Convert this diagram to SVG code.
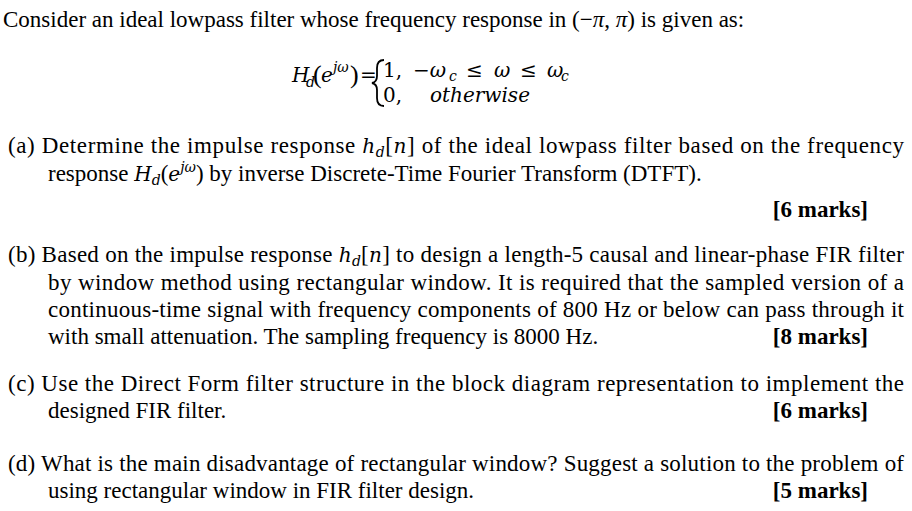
<svg xmlns="http://www.w3.org/2000/svg" width="912" height="511" viewBox="0 0 912 511">
<style>
text{font-family:"Liberation Serif",serif;font-size:23px;fill:#000}
.m{font-family:"DejaVu Serif","Liberation Serif",serif;font-style:italic;font-size:20px}
.s{font-family:"DejaVu Serif","Liberation Serif",serif;font-style:italic;font-size:14px}
.r{font-family:"DejaVu Serif","Liberation Serif",serif;font-size:20px}
.b{font-weight:bold}
</style>
<rect width="912" height="511" fill="#fff"/>
<g id="intro">
<text x="3" y="27">Consider an ideal lowpass filter whose frequency response in <tspan>(−</tspan><tspan font-style="italic">π</tspan><tspan>, </tspan><tspan font-style="italic">π</tspan><tspan>)  is given as:</tspan></text>
</g>
<g id="equation">
<text x="292" y="82" class="m">H</text>
<text x="306" y="87" class="s">d</text>
<text x="313" y="83" style="font-size:26px">(</text>
<text x="321" y="82" class="m">e</text>
<text x="333" y="72" class="s">jω</text>
<text x="350" y="83" style="font-size:26px">)</text>
<text x="360" y="82" class="r">=</text>
<path d="M384,60 Q377,60 377,68 L377,76 Q377,82 372,83 Q377,84 377,90 L377,98 Q377,106 384,106" fill="none" stroke="#000" stroke-width="1.8"/>
<text x="383" y="77" class="r">1,</text>
<text x="413" y="77" class="m">−ω</text>
<text x="449" y="81" class="s">c</text>
<text x="466" y="77" class="r">≤</text>
<text x="494" y="77" class="m">ω</text>
<text x="520" y="77" class="r">≤</text>
<text x="547" y="77" class="m">ω</text>
<text x="561" y="81" class="s">c</text>
<text x="383" y="102" class="r">0,</text>
<text x="430" y="102" class="m">otherwise</text>
</g>
<g id="a">
<text x="8" y="153" textLength="896" lengthAdjust="spacing">(a) Determine the impulse response <tspan class="m">h</tspan><tspan class="s" dy="4">d</tspan><tspan dy="-4">[</tspan><tspan class="m">n</tspan><tspan>] of the ideal lowpass filter based on the frequency</tspan></text>
<text x="48" y="181">response <tspan class="m">H</tspan><tspan class="s" dy="4">d</tspan><tspan dy="-4">(</tspan><tspan class="m">e</tspan><tspan class="s" dy="-9">jω</tspan><tspan dy="9">) by inverse Discrete-Time Fourier Transform (DTFT).</tspan></text>
<text x="868" y="217" class="b" text-anchor="end">[6 marks]</text>
</g>
<g id="b">
<text x="8" y="262" textLength="896" lengthAdjust="spacing">(b) Based on the impulse response <tspan class="m">h</tspan><tspan class="s" dy="4">d</tspan><tspan dy="-4">[</tspan><tspan class="m">n</tspan><tspan>] to design a length-5 causal and linear-phase FIR filter</tspan></text>
<text x="48" y="290" textLength="856" lengthAdjust="spacing">by window method using rectangular window. It is required that the sampled version of a</text>
<text x="48" y="317" textLength="856" lengthAdjust="spacing">continuous-time signal with frequency components of 800 Hz or below can pass through it</text>
<text x="48" y="344">with small attenuation. The sampling frequency is 8000 Hz.</text>
<text x="868" y="344" class="b" text-anchor="end">[8 marks]</text>
</g>
<g id="c">
<text x="8" y="391" textLength="896" lengthAdjust="spacing">(c) Use the Direct Form filter structure in the block diagram representation to implement the</text>
<text x="48" y="418">designed FIR filter.</text>
<text x="868" y="418" class="b" text-anchor="end">[6 marks]</text>
</g>
<g id="d">
<text x="8" y="471" textLength="896" lengthAdjust="spacing">(d) What is the main disadvantage of rectangular window? Suggest a solution to the problem of</text>
<text x="48" y="498">using rectangular window in FIR filter design.</text>
<text x="868" y="498" class="b" text-anchor="end">[5 marks]</text>
</g>
</svg>
